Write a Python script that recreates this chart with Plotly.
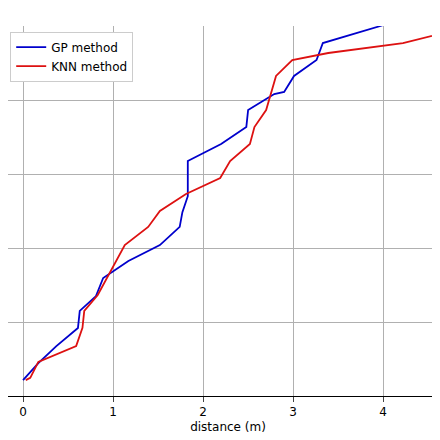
import plotly.graph_objects as go

gp_x = [0.0, 0.17, 0.37, 0.61, 0.63, 0.81, 0.89, 1.17, 1.52, 1.74, 1.77, 1.83, 1.83, 2.2, 2.48, 2.5, 2.79, 2.9, 3.01, 3.26, 3.33, 3.97, 4.3]
gp_y = [0.043, 0.089, 0.135, 0.184, 0.23, 0.27, 0.319, 0.365, 0.408, 0.457, 0.497, 0.54, 0.635, 0.681, 0.727, 0.773, 0.816, 0.822, 0.865, 0.908, 0.954, 1.0, 1.03]
knn_x = [0.03, 0.08, 0.17, 0.59, 0.66, 0.68, 0.83, 0.94, 1.13, 1.39, 1.52, 1.81, 2.19, 2.3, 2.52, 2.57, 2.7, 2.81, 2.99, 3.39, 4.22, 4.72]
knn_y = [0.043, 0.049, 0.092, 0.135, 0.184, 0.23, 0.273, 0.322, 0.408, 0.457, 0.5, 0.546, 0.589, 0.635, 0.681, 0.727, 0.773, 0.865, 0.908, 0.927, 0.954, 0.984]

fig = go.Figure()
fig.add_trace(go.Scatter(x=gp_x, y=gp_y, mode="lines", name="GP method", line=dict(color="#0000cc", width=1.8)))
fig.add_trace(go.Scatter(x=knn_x, y=knn_y, mode="lines", name="KNN method", line=dict(color="#dd1111", width=1.8)))
fig.update_layout(
    width=440, height=440, margin=dict(l=0, r=0, t=18, b=52, autoexpand=False),
    plot_bgcolor="white", paper_bgcolor="white",
    font=dict(family="DejaVu Sans", size=12, color="black"),
    legend=dict(x=0.005, y=0.985, xanchor="left", yanchor="top", bgcolor="white",
                bordercolor="#cccccc", borderwidth=1, font=dict(size=12)),
    xaxis=dict(range=[-0.167, 4.72], tickvals=[0, 1, 2, 3, 4], showgrid=True, gridcolor="#b0b0b0",
               showline=True, linecolor="black", ticks="outside", zeroline=False, automargin=False,
               title=dict(text="distance (m)", font=dict(size=12), standoff=4)),
    yaxis=dict(range=[0, 1], tickvals=[0.2, 0.4, 0.6, 0.8, 1.0], showticklabels=False, showgrid=True,
               gridcolor="#b0b0b0", zeroline=False, showline=True, linecolor="black", mirror=True,
               automargin=False),
)
fig.write_html("out.html")
